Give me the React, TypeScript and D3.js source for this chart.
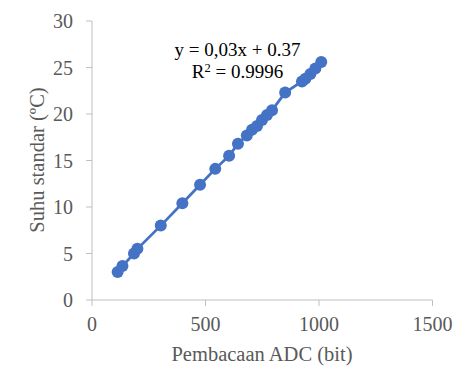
import React from "react";
import * as d3 from "d3";

const adcValues = [113, 134, 185, 200, 303, 398, 476, 543, 604, 643, 682, 705, 727, 749, 771, 793, 851, 925, 940, 962, 984, 1010];
const tempValues = [3.0, 3.65, 5.0, 5.5, 8.0, 10.4, 12.4, 14.1, 15.5, 16.8, 17.7, 18.3, 18.7, 19.35, 19.9, 20.4, 22.3, 23.5, 23.8, 24.3, 24.9, 25.6];
const xTicks = [0, 500, 1000, 1500];
const yTicks = [0, 5, 10, 15, 20, 25, 30];
const equationText = "y = 0,03x + 0.37";
const xTitle = "Pembacaan ADC (bit)";
const yTitle = "Suhu standar (ºC)";

export default function App() {
  const W = 474, H = 389;
  const x = d3.scaleLinear().domain([0, 1500]).range([92, 432.5]);
  const y = d3.scaleLinear().domain([0, 30]).range([300, 21]);
  const pts = adcValues.map((v, i) => [v, tempValues[i]] as [number, number]);
  const line = d3.line<[number, number]>().x(d => x(d[0])).y(d => y(d[1]));
  const axisColor = "#BFBFBF";
  const labelColor = "#595959";
  const font = "'Liberation Serif', 'Times New Roman', serif";
  const blue = "#4472C4";
  return (
    <svg width={W} height={H} style={{ position: "absolute", left: 0, top: 0, background: "#fff" }} fontFamily={font}>
      <rect x={0} y={0} width={W} height={H} fill="#fff" />
      {/* y axis */}
      <line x1={x(0)} x2={x(0)} y1={y(0)} y2={y(30)} stroke={axisColor} strokeWidth={1} />
      {yTicks.map(t => (
        <g key={"y" + t}>
          <line x1={x(0) - 6} x2={x(0)} y1={y(t)} y2={y(t)} stroke={axisColor} />
          <text x={73} y={y(t)} dy="0.35em" textAnchor="end" fontSize={20} fill={labelColor}>{t}</text>
        </g>
      ))}
      {/* x axis */}
      <line x1={x(0)} x2={x(1500)} y1={y(0)} y2={y(0)} stroke={axisColor} strokeWidth={1} />
      {xTicks.map(t => (
        <g key={"x" + t}>
          <line x1={x(t)} x2={x(t)} y1={y(0)} y2={y(0) + 6} stroke={axisColor} />
          <text x={x(t)} y={331} textAnchor="middle" fontSize={20} fill={labelColor}>{t}</text>
        </g>
      ))}
      <text x={262} y={361} textAnchor="middle" fontSize={20.5} fill={labelColor}>{xTitle}</text>
      <text transform={`translate(44,160) rotate(-90)`} textAnchor="middle" fontSize={20.5} fill={labelColor}>{yTitle}</text>
      {/* series */}
      <path d={line(pts) || ""} fill="none" stroke={blue} strokeWidth={2.75} />
      {pts.map((p, i) => (
        <circle key={i} cx={x(p[0])} cy={y(p[1])} r={6} fill={blue} />
      ))}
      {/* equation */}
      <text x={237.5} y={56} textAnchor="middle" fontSize={19} fill="#000">{equationText}</text>
      <text x={237.5} y={78} textAnchor="middle" fontSize={19} fill="#000">R<tspan dy={-6} fontSize={12.5}>2</tspan><tspan dy={6}> = 0.9996</tspan></text>
    </svg>
  );
}
